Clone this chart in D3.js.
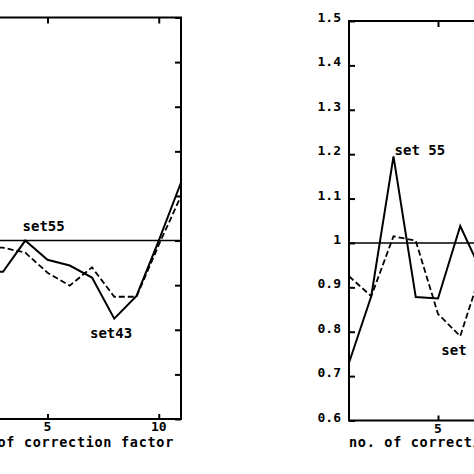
<!DOCTYPE html>
<html>
<head>
<meta charset="utf-8">
<script src="https://cdn.jsdelivr.net/npm/d3@7"></script>
<style>
  html, body { margin: 0; padding: 0; background: #fff; }
  svg { display: block; }
  text { font-family: "DejaVu Sans Mono", "Liberation Mono", monospace; fill: #000; }
</style>
</head>
<body>
<svg id="chart" width="474" height="474"></svg>
<script>
// ---- data ----
const xTicks = [5, 10];
const yTicks = [0.6, 0.7, 0.8, 0.9, 1.0, 1.1, 1.2, 1.3, 1.4, 1.5];
const yTickLabels = ["0.6", "0.7", "0.8", "0.9", "1", "1.1", "1.2", "1.3", "1.4", "1.5"];
const xTitle = "no. of correction factor";

const leftX = [2, 3, 4, 5, 6, 7, 8, 9, 10, 11];
const leftSolid  = [0.93, 0.93, 1.00, 0.957, 0.944, 0.917, 0.825, 0.876, 1.00, 1.13];
const leftDashed = [0.985, 0.984, 0.973, 0.928, 0.899, 0.94, 0.874, 0.874, 0.99, 1.10];
const leftLabels = [{ text: "set55", x: 3.88, y: 1.021 }, { text: "set43", x: 6.91, y: 0.781 }];

const rightX = [1, 2, 3, 4, 5, 6, 7];
const rightSolid  = [0.73, 0.88, 1.195, 0.878, 0.875, 1.038, 0.93];
const rightDashed = [0.925, 0.88, 1.015, 1.005, 0.84, 0.79, 0.945];
const rightLabels = [{ text: "set 55", x: 3.05, y: 1.198 }, { text: "set", x: 5.15, y: 0.748 }];

const svg = d3.select("#chart");

function panel(cfg) {
  const g = svg.append("g");
  const x = d3.scaleLinear().domain([1, 11]).range([cfg.left, cfg.left + 222.5]);
  const y = d3.scaleLinear().domain([0.6, 1.5]).range([cfg.bottom, cfg.top]);
  const x0 = x.range()[0], x1 = x.range()[1], y0 = y.range()[0], y1 = y.range()[1];

  const clipId = "clip" + cfg.id;
  svg.append("clipPath").attr("id", clipId)
    .append("rect").attr("x", x0).attr("y", y1).attr("width", x1 - x0).attr("height", y0 - y1);

  // reference line at 1
  g.append("line").attr("x1", x0).attr("x2", x1)
    .attr("y1", y(1)).attr("y2", y(1))
    .attr("stroke", "#000").attr("stroke-width", 1.6);

  const line = d3.line().x((d, i) => x(cfg.xs[i])).y(d => y(d));
  const plot = g.append("g").attr("clip-path", `url(#${clipId})`);
  plot.append("path").datum(cfg.solid).attr("d", line)
    .attr("fill", "none").attr("stroke", "#000").attr("stroke-width", 2).attr("stroke-linejoin", "miter");
  plot.append("path").datum(cfg.dashed).attr("d", line)
    .attr("fill", "none").attr("stroke", "#000").attr("stroke-width", 1.8)
    .attr("stroke-dasharray", "6,3");

  // frame
  g.append("rect").attr("x", x0).attr("y", y1).attr("width", x1 - x0).attr("height", y0 - y1)
    .attr("fill", "none").attr("stroke", "#000").attr("stroke-width", 2);

  // inward ticks via axes
  const axL = d3.axisRight(y).tickValues(yTicks).tickSize(6).tickFormat("");
  const axR = d3.axisLeft(y).tickValues(yTicks).tickSize(6).tickFormat("");
  const axT = d3.axisBottom(x).tickValues(xTicks).tickSize(6).tickFormat("");
  const axB = d3.axisTop(x).tickValues(xTicks).tickSize(5).tickFormat("");
  [[axL, `translate(${x0},0)`], [axR, `translate(${x1},0)`],
   [axT, `translate(0,${y1})`], [axB, `translate(0,${y0})`]].forEach(([ax, tr]) => {
    const a = g.append("g").attr("transform", tr).call(ax);
    a.select(".domain").remove();
    a.selectAll("line").attr("stroke", "#000").attr("stroke-width", 2);
  });

  // y tick labels (only where they fall inside the picture)
  if (cfg.showYLabels) {
    g.append("g").selectAll("text").data(yTicks).join("text")
      .attr("x", x0 - 8).attr("y", d => y(d) + 1)
      .attr("text-anchor", "end").attr("font-size", 13).attr("font-weight", "bold")
      .text((d, i) => yTickLabels[i]);
  }

  // x tick labels
  g.append("g").selectAll("text").data(xTicks).join("text")
    .attr("x", d => x(d)).attr("y", y0 + 12)
    .attr("text-anchor", "middle").attr("font-size", 13).attr("font-weight", "bold")
    .text(d => d);

  // x title
  g.append("text").attr("x", cfg.titleX).attr("y", 447)
    .attr("text-anchor", cfg.titleAnchor).attr("font-size", 13.5).attr("font-weight", "bold")
    .attr("letter-spacing", 0.7)
    .text(xTitle);

  // series labels
  g.append("g").selectAll("text").data(cfg.labels).join("text")
    .attr("x", d => x(d.x)).attr("y", d => y(d.y))
    .attr("font-size", 14).attr("font-weight", "bold")
    .text(d => d.text);
}

panel({ id: "L", left: -41.5, top: 17.5, bottom: 419, xs: leftX, solid: leftSolid, dashed: leftDashed,
        labels: leftLabels, titleX: 174, titleAnchor: "end", showYLabels: false });
panel({ id: "R", left: 349, top: 21, bottom: 420.5, xs: rightX, solid: rightSolid, dashed: rightDashed,
        labels: rightLabels, titleX: 349, titleAnchor: "start", showYLabels: true });
</script>
</body>
</html>
